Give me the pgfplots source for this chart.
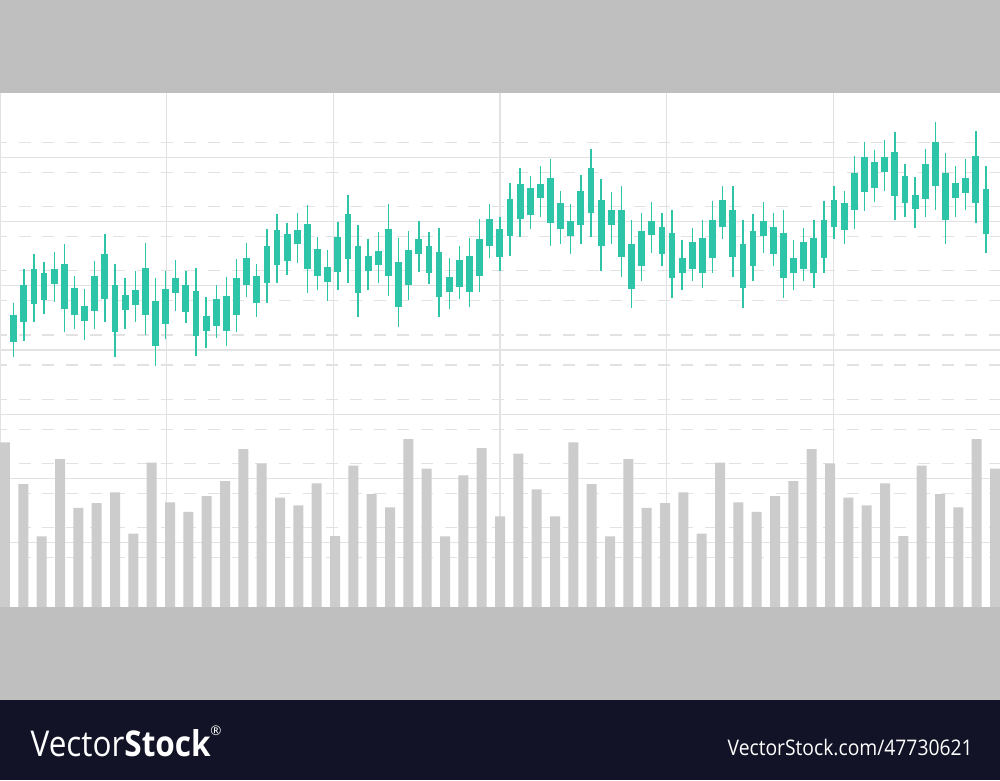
\documentclass[border=0pt]{standalone}
\usepackage{pgfplots}
\usepackage{pgfplotstable}
\pgfplotsset{compat=1.18}
\usepackage{fontspec}
\newfontfamily\logofont{Open Sans}
\definecolor{candle}{RGB}{46,196,168}
\definecolor{volc}{RGB}{204,204,204}
\definecolor{bandc}{RGB}{191,191,191}
\definecolor{footc}{RGB}{18,19,38}
\definecolor{gridc}{RGB}{226,226,226}

% candle data: index, high, body top, body bottom, low
\pgfplotstableread{
i hi top bot lo
0 304.3 292.3 265 250.3
1 338.3 322.3 285.3 266
2 353 337.7 303.3 284.7
3 345 333.7 306.7 292.7
4 355 337.7 323.3 304.7
5 363 343.3 298.3 275
6 330.7 318.7 292 277.7
7 318 300.7 286 266.7
8 346.3 331 296.3 277.7
9 373 353.3 308.3 285
10 343 322 275.3 250.3
11 329.3 311.7 297 278.3
12 336 317 302.3 285
13 363.7 339 292.3 271.7
14 329.3 306 260.7 241
15 336.3 318 283.3 268
16 347 328.7 313.7 296.3
17 336.3 322 295.3 283.7
18 339 316 271 251.3
19 309.7 291 276.3 259
20 321.7 307.7 280.7 269
21 329.7 311.3 276.3 261
22 348.3 329 291.7 275.3
23 363.7 349 322 309.7
24 343 331.3 304.3 289.7
25 377.7 361.3 324.3 303.7
26 392.7 377 342.3 324.3
27 384.3 372.7 346.3 331.7
28 394.3 377 362.7 343.7
29 402 382.7 337.7 314.3
30 369.7 358 331.3 317.3
31 357 339.7 325 306
32 385.3 370 335.3 317
33 412 392.7 347.7 324.3
34 381.7 361 314.3 289.7
35 368.3 351 336.3 317.3
36 375 356.3 341.7 324.3
37 403 378.3 331.3 311
38 368.7 345 300 280.3
39 375.7 357.3 322.3 307
40 386.3 367.7 352.7 335.3
41 375.3 361.3 334.3 322.7
42 378.7 355 310 290.3
43 349 330.3 315.3 298.3
44 361 347 319.7 308
45 368.7 350.7 315.3 300.3
46 387.7 368 331.3 314.7
47 403 388.3 361.3 349
48 389.7 377.7 350 336
49 423.7 407.7 370.7 351.3
50 438.7 423.3 388.3 369.7
51 430.7 419 392 378
52 440.7 423.3 408.7 389.7
53 448.3 429 384 360.7
54 416 404.3 377.7 363.3
55 403.3 386 371.3 352.7
56 431.7 416.3 381.7 363.3
57 458.3 438.7 393.7 370
58 428 407.3 360.7 336
59 414.7 397.3 382.3 363.3
60 421.3 396.7 350 329.7
61 386.7 363.3 318.3 298.7
62 394 375.7 341 325.7
63 404.7 386 371.7 353.7
64 393.7 379.7 353 341
65 396.7 373.7 328.7 309
66 367.3 348.7 334 316.7
67 379.3 365 338 326
68 387 369 334 318.7
69 406.3 387 349.3 334
70 421.3 406.7 379.7 367.7
71 421.3 396.7 350 329.7
72 386.7 363.3 318.7 299.3
73 393.3 375.7 341 326
74 404.7 386 371.3 354.3
75 393.7 379.7 353 341
76 396.7 373.7 328.7 309
77 367.3 348.7 334 316.7
78 379.3 365 338 326
79 387 369 334 318.7
80 406.3 387 349.3 334
81 421.3 406.7 379.7 367.7
82 416 404 377 362.7
83 450.7 434 397.3 377.7
84 465.3 449.7 415 396.3
85 457.3 445.3 419 404.7
86 467.3 449.7 435 416.3
87 475 455.3 410.7 387
88 442.7 430.7 404.3 390
89 429.7 412.3 397.7 379
90 458.3 442.7 408.3 390
91 485 465.3 420.7 396.7
92 454.3 433.7 387.3 362.7
93 441 423.7 409 390.3
94 447.7 429.3 414.3 397
95 476 451 404 383.7
96 441 418 373.3 353.7
}\candles

% volume data
\pgfplotstableread{
j v
0 164.7
1 122.8
2 70.7
3 147.8
4 99.1
5 103.9
6 114.7
7 73.5
8 144.4
9 104.6
10 95.1
11 111
12 126
13 158
14 143.3
15 109.3
16 101.7
17 123.7
18 71
19 141.3
20 113
21 99.7
22 168
23 138.3
24 70.7
25 131.7
26 159
27 90.7
28 153.3
29 117.7
30 90.7
31 164.7
32 122.8
33 70.7
34 147.8
35 99.1
36 103.9
37 114.7
38 73.5
39 144.4
40 104.6
41 95.1
42 111
43 126
44 158
45 143.3
46 109.3
47 101.7
48 123.7
49 71
50 141.3
51 113
52 99.7
53 168
54 138.3
}\vol

\pgfplotsset{panel/.style={at={(0pt,51.9pt)}, anchor=south west, scale only axis,
  width=300pt, height=154.2pt, ymin=0, ymax=514}}

\begin{document}
\begin{tikzpicture}
\path[use as bounding box] (0,0) rectangle (300pt,234pt);
\fill[footc] (0,0) rectangle (300pt,24pt);
\fill[bandc] (0,24pt) rectangle (300pt,51.9pt);
\fill[white] (0,51.9pt) rectangle (300pt,206.1pt);
\fill[bandc] (0,206.1pt) rectangle (300pt,234pt);

% grid
\begin{axis}[panel, xmin=0, xmax=1000,
  axis line style={draw=none}, major tick length=0pt, minor tick length=0pt,
  xtick={0,166.667,333.333,500,666.667,833.333},
  ytick={64.25,128.5,192.75,257,321.25,385.5,449.75},
  minor ytick={49.25,79.25,113.5,143.5,177.75,207.75,242,272,306.25,336.25,370.5,400.5,434.75,464.75},
  xticklabels={}, yticklabels={},
  xmajorgrids, ymajorgrids, yminorgrids,
  major grid style={draw=gridc, line width=0.33pt},
  minor grid style={draw=gridc, line width=0.33pt, dash pattern=on 3.55pt off 3.55pt, dash phase=1.5pt}]
\end{axis}

% volume
\begin{axis}[panel, hide axis, xmin=-0.2727, xmax=54.273, ybar, bar width=3pt]
\addplot[fill=volc, draw=none, bar shift=0pt] table[x=j, y=v] {\vol};
\end{axis}

% candles: wicks and bodies drawn as error bars from high to low / top to bottom
\begin{axis}[panel, hide axis, xmin=-1.3527, xmax=97.3835]
\addplot[draw=none, no markers, error bars/.cd, y dir=minus, y explicit, error mark=none,
  error bar style={draw=candle, solid, line width=0.42pt}]
  table[x=i, y=hi, y error expr=\thisrow{hi}-\thisrow{lo}] {\candles};
\addplot[draw=none, no markers, error bars/.cd, y dir=minus, y explicit, error mark=none,
  error bar style={draw=candle, solid, line width=2.04pt}]
  table[x=i, y=top, y error expr=\thisrow{top}-\thisrow{bot}] {\candles};
\end{axis}

% footer
\node[anchor=base west, inner sep=0pt, text=white] at (9pt,7.2pt)
  {\resizebox{54pt}{8.1pt}{\logofont Vector\textbf{Stock}}};
\node[anchor=center, inner sep=0pt, text=white] at (64.8pt,14.7pt)
  {\logofont\fontsize{4pt}{4pt}\selectfont\textregistered};
\node[anchor=base west, inner sep=0pt, text=white] at (218.1pt,7.5pt)
  {\resizebox{73.5pt}{4.9pt}{\logofont VectorStock.com/47730621}};
\end{tikzpicture}
\end{document}
